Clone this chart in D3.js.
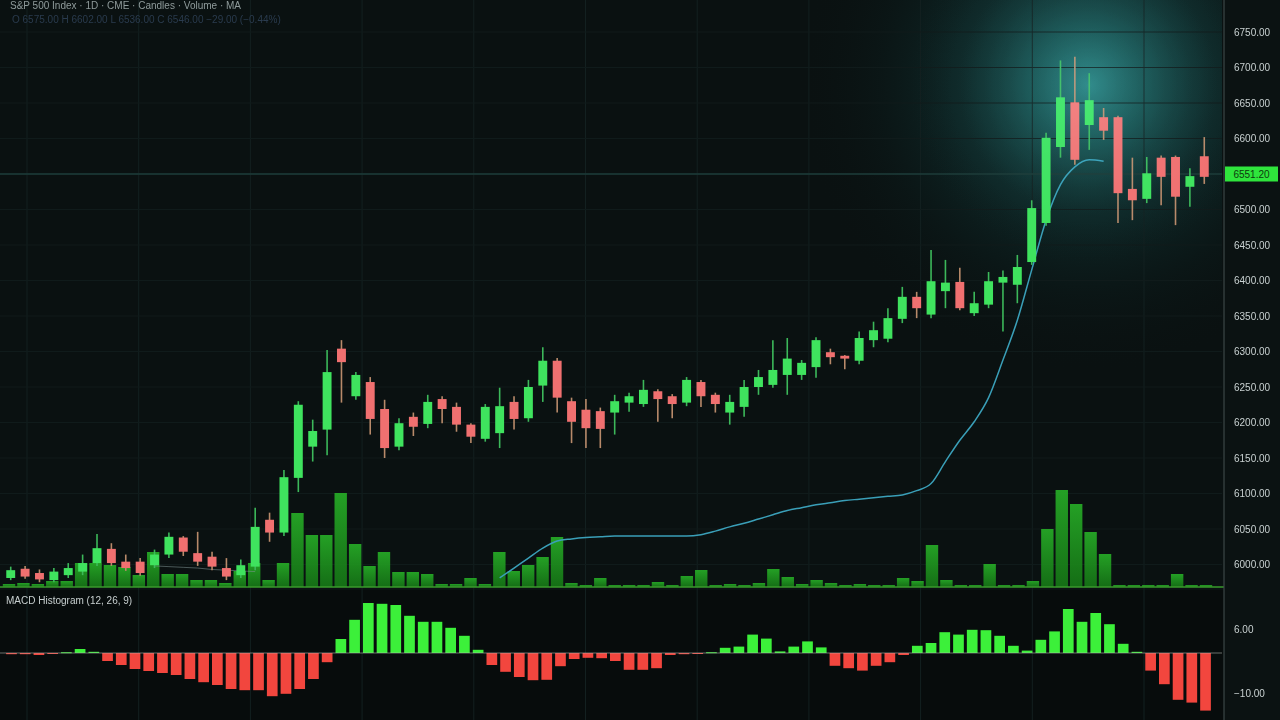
<!DOCTYPE html>
<html><head><meta charset="utf-8">
<script src="https://cdn.jsdelivr.net/npm/d3@7"></script>
<style>html,body{margin:0;padding:0;background:#0a1111;overflow:hidden}svg{display:block}</style>
</head><body><svg id="c" width="1280" height="720"></svg>
<script>
// ---------- DATA ----------
const opens=[5981,5994,5988,5978,5985,5990,6002,6022,6004,6004,
5999,6014,6038,6016,6011,5995,5985,5997,6063,6045,
6122,6166,6190,6304,6237,6257,6219,6166,6208,6198,
6233,6222,6197,6177,6185,6229,6206,6252,6287,6230,
6218,6216,6214,6228,6226,6244,6237,6228,6257,6239,
6214,6222,6250,6253,6267,6267,6278,6299,6294,6287,
6316,6318,6346,6377,6352,6385,6398,6354,6366,6397,
6394,6426,6481,6588,6651,6619,6630,6630,6529,6515,
6573,6574,6532,6575];
const highs=[5997,5998,5993,5995,6002,6014,6043,6030,6014,6009,
6021,6045,6040,6046,6018,6009,6007,6080,6073,6133,
6230,6204,6302,6316,6271,6264,6232,6206,6214,6239,
6237,6228,6199,6226,6249,6237,6260,6306,6291,6235,
6233,6221,6239,6242,6260,6247,6240,6264,6260,6242,
6239,6260,6274,6316,6319,6288,6320,6304,6295,6328,
6342,6361,6391,6384,6443,6429,6418,6384,6412,6414,
6436,6513,6608,6710,6715,6692,6643,6632,6573,6574,
6576,6576,6558,6602];
const lows=[5978,5980,5975,5975,5981,5985,5998,5998,5991,5984,
5995,6009,6012,5998,5992,5978,5981,5992,6032,6040,
6102,6145,6154,6228,6232,6183,6150,6161,6181,6192,
6199,6187,6171,6173,6164,6190,6201,6229,6214,6171,
6164,6164,6183,6215,6222,6201,6206,6223,6222,6214,
6197,6208,6239,6249,6239,6260,6263,6282,6275,6282,
6306,6313,6340,6347,6347,6361,6358,6350,6361,6328,
6368,6422,6477,6573,6563,6584,6598,6481,6485,6509,
6506,6478,6504,6536];
const closes=[5992,5983,5979,5990,5995,6002,6023,6002,5995,5988,
6014,6039,6018,6004,5997,5983,5999,6053,6045,6123,
6225,6188,6271,6285,6267,6205,6164,6199,6194,6229,
6219,6197,6180,6222,6223,6205,6250,6287,6235,6201,
6192,6191,6230,6237,6246,6233,6226,6260,6237,6226,
6229,6250,6264,6274,6290,6284,6316,6292,6290,6319,
6330,6347,6377,6361,6399,6397,6361,6368,6399,6405,
6419,6502,6601,6658,6570,6654,6611,6523,6513,6551,
6546,6518,6547,6546];
const volumes=[30,40,30,60,60,240,240,220,200,120,
350,130,130,70,70,40,160,240,70,240,
740,520,520,940,430,210,350,150,150,130,
30,30,90,30,350,160,220,300,500,40,
20,90,20,20,20,50,20,110,170,20,
30,20,40,180,100,30,70,40,20,30,
20,20,90,60,420,70,20,20,230,20,
20,60,580,970,830,550,330,20,20,20,
20,130,20,20];
const maStart=34;
const maValues=[5981,5995,6009,6023,6033,6036,6038,6039,6040,6040,
6040,6040,6040,6040,6042,6047,6053,6058,6064,6070,
6076,6080,6084,6087,6090,6092,6094,6096,6098,6104,
6114,6145,6175,6201,6235,6288,6344,6415,6485,6535,
6560,6570,6568];
const sigStart=10;
const sigValues=[5998,5997,5996,5995,5993,5992,5991,5990];
const macdValues=[-0.3,-0.3,-0.5,-0.2,0.2,1.0,0.3,
-2,-3,-4,-4.5,-5,-5.5,-6.5,-7.3,-8,-9,
-9.3,-9.3,-10.8,-10.2,-9,-6.5,-2.3,3.5,8.3,12.5,
12.3,12,9.3,7.8,7.8,6.3,4.3,0.8,-3,-4.7,
-6,-6.8,-6.7,-3.3,-1.5,-1.2,-1.3,-2,-4.2,-4.2,
-3.8,-0.5,-0.3,-0.2,0.2,1.3,1.6,4.6,3.6,0.4,
1.6,2.9,1.4,-3.2,-3.8,-4.4,-3.2,-2.3,-0.5,1.8,
2.5,5.2,4.6,5.8,5.7,4.3,1.8,0.6,3.3,5.4,
11,7.8,10,7.2,2.3,0.3,-4.4,-7.8,-11.7,-12.4,-14.4];
const priceTicks=[6750,6700,6650,6600,6550,6500,6450,6400,6350,6300,6250,6200,6150,6100,6050,6000];
const currentPrice=6550;
const currentLabel="6551.20";
const macdTicks=[6,-10];
const titleText="S&P 500 Index · 1D · CME · Candles · Volume · MA";
const ohlcText="O 6575.00   H 6602.00   L 6536.00   C 6546.00   −29.00 (−0.44%)";
const macdTitle="MACD Histogram (12, 26, 9)";

// ---------- LAYOUT ----------
const W=1280,H=720, plotR=1222, axisX=1224, mainBottom=587, macdTop=590;
const svg=d3.select("#c");
const defs=svg.append("defs");

const x=d3.scaleBand().domain(d3.range(opens.length)).range([0.8,1214.2]).padding(0.38);
const xv=d3.scaleBand().domain(d3.range(opens.length)).range([0.8,1214.2]).padding(0.14);
const xm=d3.scaleBand().domain(d3.range(macdValues.length)).range([3.1,1213.9]).padding(0.22);
const y=d3.scaleLinear().domain([6000,6750]).range([564.5,32]);
const yv=d3.scaleLinear().domain([0,1000]).range([mainBottom,487]);
const ym=d3.scaleLinear().domain([-10,6]).range([693,629]);
const cx=i=>x(i)+x.bandwidth()/2;
const FONT="Liberation Sans, Arial, sans-serif";

// background
svg.append("rect").attr("width",W).attr("height",H).attr("fill","#0a1111");
svg.append("rect").attr("x",0).attr("y",macdTop).attr("width",W).attr("height",H-macdTop).attr("fill","#070c0c");

// glow
const g1=defs.append("radialGradient").attr("id","glow").attr("gradientUnits","userSpaceOnUse")
  .attr("cx",1088).attr("cy",85).attr("r",290);
[[0,"#2f9a9a",0.75],[0.2,"#24807f",0.55],[0.45,"#175656",0.32],[0.72,"#0f3434",0.14],[1,"#0a1111",0]]
 .forEach(s=>g1.append("stop").attr("offset",s[0]).attr("stop-color",s[1]).attr("stop-opacity",s[2]));
svg.append("rect").attr("x",0).attr("y",0).attr("width",plotR).attr("height",mainBottom).attr("fill","url(#glow)");

// grid
const gridXs=d3.range(11).map(k=>27+k*111.7);
svg.append("g").selectAll("line").data(gridXs).join("line")
  .attr("x1",d=>d).attr("x2",d=>d).attr("y1",0).attr("y2",H)
  .attr("stroke","#132020").attr("stroke-width",1);
svg.append("g").selectAll("line").data(priceTicks).join("line")
  .attr("x1",0).attr("x2",plotR).attr("y1",d=>y(d)).attr("y2",d=>y(d))
  .attr("stroke","#101b1b").attr("stroke-width",1);
svg.append("line").attr("x1",0).attr("x2",plotR).attr("y1",y(currentPrice)).attr("y2",y(currentPrice))
  .attr("stroke","#1c3c3a").attr("stroke-width",1.3);

// volume
const vg=defs.append("linearGradient").attr("id","vol").attr("x1",0).attr("x2",0).attr("y1",0).attr("y2",1);
vg.append("stop").attr("offset",0).attr("stop-color","#27b027");
vg.append("stop").attr("offset",1).attr("stop-color","#167816");
svg.append("g").selectAll("rect").data(volumes).join("rect")
  .attr("x",(d,i)=>xv(i)).attr("width",xv.bandwidth())
  .attr("y",d=>yv(d)).attr("height",d=>mainBottom-yv(d))
  .attr("fill","url(#vol)").attr("opacity",0.9);

// signal faint line
svg.append("path").datum(sigValues)
  .attr("d",d3.line().x((d,i)=>cx(i+sigStart)).y(d=>y(d)).curve(d3.curveMonotoneX))
  .attr("fill","none").attr("stroke","#7f9494").attr("stroke-opacity",0.55).attr("stroke-width",1);

// MA line
svg.append("path").datum(maValues)
  .attr("d",d3.line().x((d,i)=>cx(i+maStart)).y(d=>y(d)).curve(d3.curveMonotoneX))
  .attr("fill","none").attr("stroke","#3a9fb8").attr("stroke-width",1.5);

// candles
const candles=d3.range(opens.length).map(i=>({i,o:opens[i],h:highs[i],l:lows[i],c:closes[i],up:closes[i]>=opens[i]}));
const cg=svg.append("g");
cg.selectAll("line").data(candles).join("line")
  .attr("x1",d=>cx(d.i)).attr("x2",d=>cx(d.i)).attr("y1",d=>y(d.h)).attr("y2",d=>y(d.l))
  .attr("stroke",d=>d.up?"#3cb85a":"#b88a6a").attr("stroke-width",1.6);
cg.selectAll("rect").data(candles).join("rect")
  .attr("x",d=>x(d.i)).attr("width",x.bandwidth())
  .attr("y",d=>y(Math.max(d.o,d.c))).attr("height",d=>Math.max(2,Math.abs(y(d.o)-y(d.c))))
  .attr("fill",d=>d.up?"#3fe35e":"#f07070");

// glow overlay tint
const g2=defs.append("radialGradient").attr("id","glow2").attr("gradientUnits","userSpaceOnUse")
  .attr("cx",1088).attr("cy",85).attr("r",180);
[[0,"#3fb0b0",0.22],[0.5,"#236f6f",0.1],[1,"#0a1111",0]]
 .forEach(s=>g2.append("stop").attr("offset",s[0]).attr("stop-color",s[1]).attr("stop-opacity",s[2]));
svg.append("rect").attr("x",0).attr("y",0).attr("width",plotR).attr("height",mainBottom)
  .attr("fill","url(#glow2)").style("mix-blend-mode","screen");

// main bottom line
svg.append("line").attr("x1",0).attr("x2",W).attr("y1",mainBottom).attr("y2",mainBottom)
  .attr("stroke","#3a9a2c").attr("stroke-width",1.6);

// MACD
svg.append("g").selectAll("rect").data(macdValues).join("rect")
  .attr("x",(d,i)=>xm(i)).attr("width",xm.bandwidth())
  .attr("y",d=>ym(Math.max(0,d))).attr("height",d=>Math.max(1,Math.abs(ym(d)-ym(0))))
  .attr("fill",d=>d>=0?"#3cf03a":"#f2463e");
svg.append("line").attr("x1",0).attr("x2",plotR).attr("y1",ym(0)).attr("y2",ym(0))
  .attr("stroke","#b9c2b9").attr("stroke-opacity",0.55).attr("stroke-width",1.2);
svg.append("text").attr("x",6).attr("y",604).text(macdTitle)
  .attr("fill","#c8d0d0").attr("font-family",FONT).attr("font-size",10);

// right axis
svg.append("rect").attr("x",axisX).attr("y",0).attr("width",W-axisX).attr("height",H).attr("fill","#0b1212");
svg.append("line").attr("x1",axisX).attr("x2",axisX).attr("y1",0).attr("y2",H).attr("stroke","#3b4747").attr("stroke-width",1.2);
const axR=d3.axisRight(y).tickValues(priceTicks.filter(t=>t!==currentPrice)).tickSize(0).tickPadding(8).tickFormat(d3.format(".2f"));
const ag=svg.append("g").attr("transform",`translate(${axisX+2},0)`).call(axR);
ag.select(".domain").remove();
ag.selectAll("text").attr("fill","#c9d1d1").attr("font-family",FONT).attr("font-size",10);
svg.append("rect").attr("x",axisX+1).attr("y",y(currentPrice)-7.5).attr("width",53).attr("height",15).attr("fill","#2fe53c");
svg.append("text").attr("x",axisX+27.5).attr("y",y(currentPrice)+3.8).attr("text-anchor","middle").text(currentLabel)
  .attr("fill","#0d3a0d").attr("font-family",FONT).attr("font-size",10);
const axM=d3.axisRight(ym).tickValues(macdTicks).tickSize(0).tickPadding(8).tickFormat(d3.format(".2f"));
const am=svg.append("g").attr("transform",`translate(${axisX+2},0)`).call(axM);
am.select(".domain").remove();
am.selectAll("text").attr("fill","#c9d1d1").attr("font-family",FONT).attr("font-size",10);

// title rows
svg.append("text").attr("x",10).attr("y",9).text(titleText)
  .attr("fill","#8f9b9b").attr("font-family",FONT).attr("font-size",10);
svg.append("text").attr("x",12).attr("y",23).text(ohlcText)
  .attr("fill","#2a3b4e").attr("font-family",FONT).attr("font-size",10);
</script></body></html>
